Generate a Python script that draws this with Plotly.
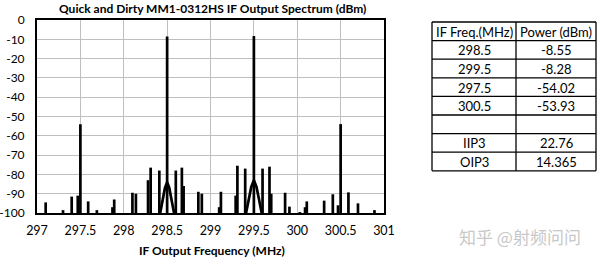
import plotly.graph_objects as go

# ---- spectrum data (MHz, dBm) ----
spur_freq = [297.10, 297.30, 297.40, 297.47, 297.50, 297.59, 297.69, 297.87, 297.89,
             298.10, 298.14, 298.28, 298.31, 298.41, 298.50, 298.60, 298.67, 298.69,
             298.86, 298.90, 299.10, 299.12, 299.29, 299.31, 299.40, 299.50, 299.60,
             299.68, 299.70, 299.86, 299.91, 300.03, 300.09, 300.11, 300.31, 300.41,
             300.47, 300.50, 300.59, 300.70, 300.89]
spur_db = [-94.5, -98.5, -91.5, -91, -54.02, -94, -98.5, -97, -93,
           -89.5, -90, -83, -76.5, -78, -8.55, -78, -76.5, -86,
           -89, -90, -97, -89, -91, -75.5, -77, -8.28, -77,
           -76, -90, -89.5, -96.7, -99.5, -97, -94, -93.6, -90.3,
           -96, -53.93, -89.3, -95, -98.5]
noise_floor = -100

hump1_freq = [298.42, 298.45, 298.475, 298.50, 298.525, 298.55, 298.58]
hump1_db = [-100, -93, -87, -84, -87, -93, -100]
hump2_freq = [299.41, 299.445, 299.47, 299.50, 299.53, 299.555, 299.59]
hump2_db = [-100, -92, -86.5, -83, -86.5, -92, -100]

x_tick_vals = [297, 297.5, 298, 298.5, 299, 299.5, 300, 300.5, 301]
x_tick_text = ["297", "297.5", "298", "298.5", "299", "299.5", "300", "300.5", "301"]
y_tick_vals = [0, -10, -20, -30, -40, -50, -60, -70, -80, -90, -100]
y_tick_text = ["0", "-10", "-20", "-30", "-40", "-50", "-60", "-70", "-80", "-90", "-100"]

# ---- table data ----
table_header = ["IF Freq.(MHz)", "Power (dBm)"]
table_col1 = ["298.5", "299.5", "297.5", "300.5", "", "IIP3", "OIP3"]
table_col2 = ["-8.55", "-8.28", "-54.02", "-53.93", "", "22.76", "14.365"]

title_text = "Quick and Dirty MM1-0312HS IF Output Spectrum (dBm)"
xaxis_title = "IF Output Frequency (MHz)"
watermark = "知乎 @射频问问"

W, H = 600, 260
FONT = "Lato, 'Noto Sans', sans-serif"

def px(x):
    return x / W

def py(y):
    return 1 - y / H

# build spike line from the spur lists
sx, sy = [], []
for f, d in zip(spur_freq, spur_db):
    sx += [f, f, None]
    sy += [noise_floor, d, None]

fig = go.Figure()
fig.add_trace(go.Scatter(x=sx, y=sy, mode="lines",
                         line=dict(color="black", width=2.7), hoverinfo="skip",
                         showlegend=False))
for hf, hd in ((hump1_freq, hump1_db), (hump2_freq, hump2_db)):
    fig.add_trace(go.Scatter(x=hf, y=hd, mode="lines",
                             line=dict(color="black", width=2.7), showlegend=False))

# ---- table drawn with shapes + annotations ----
tbl_left, tbl_mid, tbl_right = 432, 516, 596
tbl_top, row_h = 22, 18.6
rows = [table_header] + [[a, b] for a, b in zip(table_col1, table_col2)]
n_rows = len(rows)
shapes = []
for i in range(n_rows + 1):
    yy = tbl_top + i * row_h
    shapes.append(dict(type="line", xref="paper", yref="paper",
                       x0=px(tbl_left), x1=px(tbl_right), y0=py(yy), y1=py(yy),
                       line=dict(color="black", width=1.3)))
for xx in (tbl_left, tbl_mid, tbl_right):
    shapes.append(dict(type="line", xref="paper", yref="paper",
                       x0=px(xx), x1=px(xx), y0=py(tbl_top),
                       y1=py(tbl_top + n_rows * row_h),
                       line=dict(color="black", width=1.3)))

annotations = []
col_centers = [(tbl_left + tbl_mid) / 2, (tbl_mid + tbl_right) / 2]
for i, row in enumerate(rows):
    yc = tbl_top + (i + 0.5) * row_h
    for c, txt in enumerate(row):
        if txt:
            annotations.append(dict(text=txt, x=px(col_centers[c]), y=py(yc + 0.5),
                                    xref="paper", yref="paper", showarrow=False,
                                    xanchor="center", yanchor="middle",
                                    font=dict(size=13, color="black")))

annotations += [
    dict(text="<b>" + title_text + "</b>", x=px(212), y=py(8),
         xref="paper", yref="paper", showarrow=False,
         xanchor="center", yanchor="middle", font=dict(size=12)),
    dict(text="<b>" + xaxis_title + "</b>", x=px(212), y=py(250),
         xref="paper", yref="paper", showarrow=False,
         xanchor="center", yanchor="middle", font=dict(size=12)),
    dict(text=watermark, x=px(520), y=py(236),
         xref="paper", yref="paper", showarrow=False,
         xanchor="center", yanchor="middle",
         font=dict(family="Noto Sans CJK SC", size=17, color="#c8c8c8")),
]

fig.update_layout(
    width=W, height=H,
    margin=dict(l=0, r=0, t=0, b=0, autoexpand=False),
    paper_bgcolor="white", plot_bgcolor="white",
    font=dict(family=FONT, size=12, color="black"),
    xaxis=dict(domain=[px(37), px(384)], range=[297, 301], automargin=False,
               tickvals=x_tick_vals, ticktext=x_tick_text,
               showgrid=True, gridcolor="#bfbfbf", gridwidth=1,
               showline=True, linecolor="black", linewidth=2, mirror=True,
               zeroline=False, ticks="", ticklabelstandoff=5,
               tickfont=dict(size=12.5)),
    yaxis=dict(domain=[py(213), py(20)], range=[-100, 0], automargin=False,
               tickvals=y_tick_vals, ticktext=y_tick_text,
               showgrid=True, gridcolor="#bfbfbf", gridwidth=1,
               showline=True, linecolor="black", linewidth=2, mirror=True,
               zeroline=False, ticks="", ticklabelstandoff=8,
               tickfont=dict(size=12)),
    shapes=shapes,
    annotations=annotations,
)

fig.write_html("out.html")
